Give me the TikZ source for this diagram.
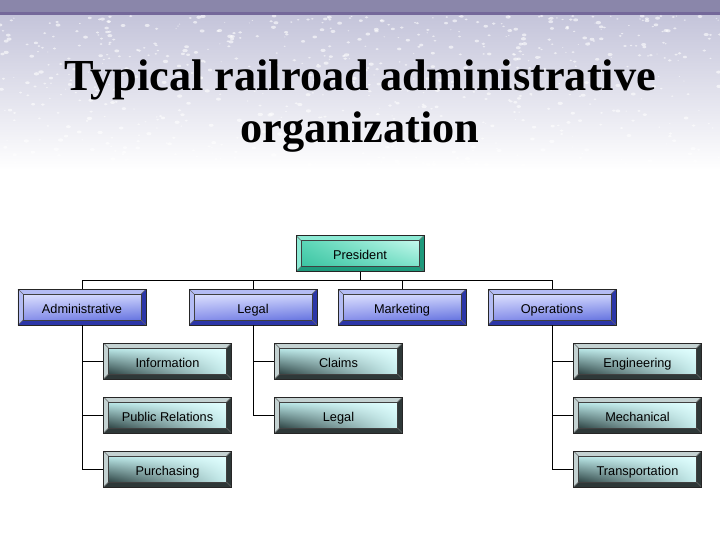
\documentclass[tikz,border=0pt]{standalone}
\usepackage{fontspec}
\setmainfont{Liberation Serif}
\setsansfont{Liberation Sans}
\usetikzlibrary{calc,shadings}

% Farben
\definecolor{bandlila}{HTML}{8A86AA}
\definecolor{bandkante}{HTML}{74689A}
\definecolor{nebel}{HTML}{C4C4DA}
\definecolor{blauhell}{HTML}{B4BCF4}
\definecolor{blaudunkel}{HTML}{2C36A8}
\definecolor{tuerkishell}{HTML}{8CEAD4}
\definecolor{tuerkisdunkel}{HTML}{1E9A7C}
\definecolor{grauhell}{HTML}{C4D2D2}
\definecolor{graudunkel}{HTML}{2E3838}
% Flaechen
\definecolor{tuOL}{HTML}{5AD6B6}\definecolor{tuOR}{HTML}{C4F8EC}
\definecolor{tuUL}{HTML}{3CC4A2}\definecolor{tuUR}{HTML}{7EE2CA}
\definecolor{blOL}{HTML}{DCE0FE}\definecolor{blOR}{HTML}{CCD2FC}
\definecolor{blUL}{HTML}{8890EA}\definecolor{blUR}{HTML}{6674E0}
\definecolor{grOL}{HTML}{BCEAEA}\definecolor{grOR}{HTML}{E2FFFF}
\definecolor{grUL}{HTML}{2E4444}\definecolor{grUR}{HTML}{C6EEEE}

% Rahmen mit Fase: #1 helle Kante, #2 dunkle Kante, #3 Kuerzel der Flaeche
\newcommand{\fasenrahmen}[3]{%
  \coordinate (bbA) at (path picture bounding box.south west);
  \coordinate (bbB) at (path picture bounding box.north east);
  \fill[#2] (bbA) rectangle (bbB);
  \fill[#1] (bbA) -- ($(bbA)+(5,5)$) |- ($(bbB)+(-5,-5)$) -- (bbB) -- (bbA |- bbB) -- cycle;
  \shade[upper left=#3OL, upper right=#3OR, lower left=#3UL, lower right=#3UR]
    ($(bbA)+(5,5)$) rectangle ($(bbB)+(-5,-5)$);
  \draw[black!75, line width=0.5bp] ($(bbA)+(5,5)$) rectangle ($(bbB)+(-5,-5)$);
  \draw[black!60, line width=0.4bp] (bbA) -- ++(5,5) (bbB) -- ++(-5,-5)
    (bbA |- bbB) -- ++(5,-5) (bbB |- bbA) -- ++(-5,5);
}

\tikzset{
  kasten/.style={draw=black!85, line width=0.6bp, minimum width=128bp,
    minimum height=36bp, inner sep=0pt, text height=12bp, text depth=0bp,
    font=\sffamily\fontsize{12.8}{14}\selectfont},
  chef/.style={kasten, path picture={\fasenrahmen{tuerkishell}{tuerkisdunkel}{tu}}},
  abteilung/.style={kasten, path picture={\fasenrahmen{blauhell}{blaudunkel}{bl}}},
  stelle/.style={kasten, path picture={\fasenrahmen{grauhell}{graudunkel}{gr}}},
  linie/.style={black, line width=0.8bp}
}

\begin{document}
\begin{tikzpicture}[x=1bp, y=1bp]
  % Hintergrund
  \useasboundingbox (0,0) rectangle (720,-540);
  \fill[white] (0,0) rectangle (720,-540);
  \shade[top color=nebel, bottom color=white] (0,-14) rectangle (720,-170);
  % Flecken im Nebel
  \pgfmathsetseed{7}
  \foreach \i in {1,...,700} {
    \pgfmathsetmacro{\fx}{720*rnd}
    \pgfmathsetmacro{\fy}{-16-150*rnd^1.4}
    \pgfmathsetmacro{\fr}{0.4+1.3*rnd}
    \fill[white, opacity=0.6] (\fx,\fy) ellipse ({\fr*1.6} and \fr);
  }
  \fill[bandlila] (0,0) rectangle (720,-14);
  \fill[bandkante] (0,-12.5) rectangle (720,-15);

  % Titel
  \node[font=\bfseries\fontsize{44.5}{52}\selectfont, align=center] (titel)
    at (360,-106) {Typical railroad administrative\\organization};

  % Spitze
  \node[chef] (praesident) at (360,-253.5) {President};

  % Abteilungen
  \node[abteilung] (verwaltung) at (82,-307) {Administrative};
  \node[abteilung] (recht) at (253,-307) {Legal};
  \node[abteilung] (vertrieb) at (402,-307) {Marketing};
  \node[abteilung] (betrieb) at (552,-307) {Operations};

  % Unterabteilungen
  \node[stelle] (information) at (167.5,-361) {Information};
  \node[stelle] (oeffentlich) at (167.5,-415) {Public Relations};
  \node[stelle] (einkauf) at (167.5,-469) {Purchasing};
  \node[stelle] (schaeden) at (338.5,-361) {Claims};
  \node[stelle] (rechtsstelle) at (338.5,-415) {Legal};
  \node[stelle] (technik) at (637.5,-361) {Engineering};
  \node[stelle] (maschinen) at (637.5,-415) {Mechanical};
  \node[stelle] (transport) at (637.5,-469) {Transportation};

  % Verbindungen oben
  \coordinate (schiene) at (0,-280);
  \draw[linie] (praesident.south) -- (praesident.south |- schiene);
  \draw[linie] (verwaltung.north) -- (verwaltung.north |- schiene)
    -- (betrieb.north |- schiene) -- (betrieb.north);
  \draw[linie] (recht.north) -- (recht.north |- schiene);
  \draw[linie] (vertrieb.north) -- (vertrieb.north |- schiene);

  % Verbindungen unten
  \draw[linie] (verwaltung.south) |- (einkauf.west);
  \draw[linie] (verwaltung.south |- information.west) -- (information.west);
  \draw[linie] (verwaltung.south |- oeffentlich.west) -- (oeffentlich.west);
  \draw[linie] (recht.south) |- (rechtsstelle.west);
  \draw[linie] (recht.south |- schaeden.west) -- (schaeden.west);
  \draw[linie] (betrieb.south) |- (transport.west);
  \draw[linie] (betrieb.south |- technik.west) -- (technik.west);
  \draw[linie] (betrieb.south |- maschinen.west) -- (maschinen.west);
\end{tikzpicture}
\end{document}
